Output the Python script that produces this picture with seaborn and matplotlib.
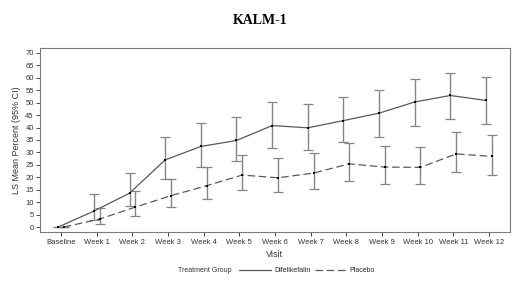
import numpy as np
import pandas as pd
import matplotlib
matplotlib.use("Agg")
import matplotlib.pyplot as plt
import seaborn as sns
from matplotlib.lines import Line2D

visits = ["Baseline", "Week 1", "Week 2", "Week 3", "Week 4", "Week 5", "Week 6",
          "Week 7", "Week 8", "Week 9", "Week 10", "Week 11", "Week 12"]
dif_mean = [0, 6.4, 13.6, 27.0, 32.4, 34.8, 40.8, 39.9, 42.8, 45.8, 50.3, 52.9, 50.9]
dif_low = [0, 2.9, 8.3, 19.4, 24.1, 26.6, 31.8, 30.9, 34.0, 36.4, 40.8, 43.5, 41.6]
dif_high = [0, 13.4, 21.7, 36.4, 41.8, 44.2, 50.3, 49.4, 52.3, 55.1, 59.6, 61.8, 60.2]
pla_mean = [0, 3.2, 8.0, 12.6, 16.6, 20.9, 19.8, 21.7, 25.4, 24.1, 24.0, 29.4, 28.4]
pla_low = [0, 1.3, 4.4, 8.0, 11.2, 14.7, 13.9, 15.4, 18.6, 17.3, 17.3, 22.1, 21.0]
pla_high = [0, 7.6, 14.3, 19.4, 24.0, 28.8, 27.6, 29.8, 33.9, 32.4, 32.2, 38.3, 37.1]
groups = ["Difelikefalin", "Placebo"]

sns.set_theme(style="white")
plt.rcParams['font.family'] = ['Liberation Sans', 'DejaVu Sans']

fig = plt.figure(figsize=(5.2, 2.86), dpi=100)
ax = fig.add_axes([40/520, 1-232/286, 470/520, 184/286])

offsets = {"Difelikefalin": -0.08, "Placebo": 0.08}
data = {"Difelikefalin": (dif_mean, dif_low, dif_high),
        "Placebo": (pla_mean, pla_low, pla_high)}

frames = []
for g in groups:
    m, lo, hi = data[g]
    frames.append(pd.DataFrame({"x": np.arange(len(visits)) + offsets[g],
                                "mean": m, "low": lo, "high": hi, "group": g}))
df = pd.concat(frames, ignore_index=True)

for g in groups:
    sub = df[df.group == g]
    ax.errorbar(sub["x"], sub["mean"],
                yerr=[sub["mean"] - sub["low"], sub["high"] - sub["mean"]],
                fmt="none", ecolor="#858585", elinewidth=1.0, capsize=3.5,
                capthick=0.9, zorder=2)

sns.lineplot(data=df, x="x", y="mean", hue="group", style="group",
             palette={"Difelikefalin": "#595959", "Placebo": "#595959"},
             dashes={"Difelikefalin": "", "Placebo": (6, 3)},
             linewidth=0.9, markers={"Difelikefalin": "s", "Placebo": "s"},
             markersize=2.1, markeredgewidth=0, markerfacecolor="black",
             ax=ax, legend=False, zorder=3, sort=False)

ax.set_xlim(-0.59, 12.59)
ax.set_ylim(-2, 72)
ax.set_xticks(np.arange(len(visits)))
ax.set_xticklabels(visits, fontsize=5.5, color="#333333")
ax.set_yticks(np.arange(0, 71, 5))
ax.tick_params(axis="y", labelsize=5.5, colors="#333333", length=3, width=0.6, left=True)
ax.tick_params(axis="x", length=3, width=0.6, bottom=True, pad=2)
ax.tick_params(axis="y", pad=1.5)
for s in ax.spines.values():
    s.set_color("#7a7a7a")
    s.set_linewidth(0.8)
ax.set_xlabel("Visit", fontsize=6.5, color="#333333", labelpad=3)
ax.set_ylabel("LS Mean Percent (95% CI)", fontsize=6.5, color="#333333", labelpad=3)

fig.text(0.5, 1-20/286, "KALM-1", ha="center", va="center", fontsize=10,
         fontweight="bold", family="Liberation Serif", color="black")

fig.text(205/520, 1-271/286, "Treatment Group", ha="center", va="center",
         fontsize=5, color="#333333")
handles = [Line2D([0], [0], color="#595959", lw=0.9, ls="-"),
           Line2D([0], [0], color="#595959", lw=0.9, ls=(0, (6, 3)))]
fig.legend(handles, groups, loc="center", bbox_to_anchor=(307/520, 1-271/286),
           ncol=2, frameon=False, fontsize=5, handlelength=4.5, columnspacing=0.6,
           handletextpad=0.5)

fig.savefig("out.png", dpi=100)
